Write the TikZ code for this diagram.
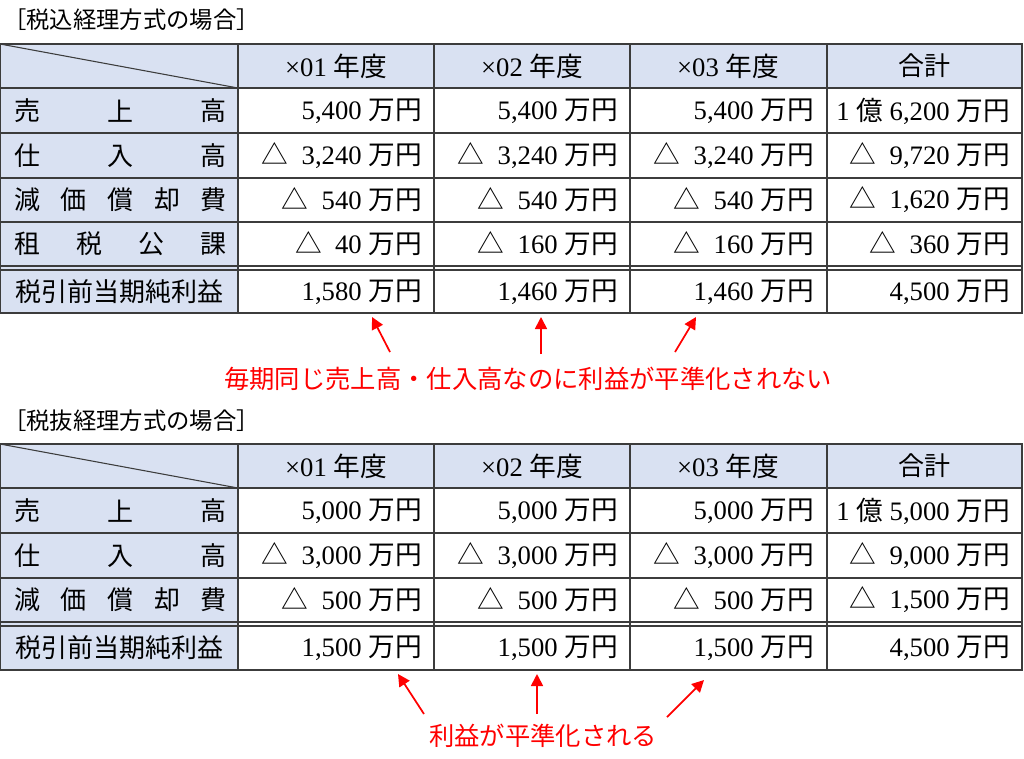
\documentclass[tikz,border=0pt]{standalone}
\usepackage{fontspec}
\setmainfont{Liberation Serif}
\newfontfamily\jp{Noto Sans CJK JP}
\usetikzlibrary{arrows.meta}
\definecolor{hdr}{RGB}{217,225,242}
\definecolor{gridc}{RGB}{60,60,60}
\tikzset{
  txt/.style={inner sep=0pt,font=\fontsize{20}{24}\selectfont},
  jtxt/.style={inner sep=0pt,font=\fontsize{19.5}{24}\selectfont\jp},
  num/.style={txt,anchor=east},
  red arrow/.style={draw=red,line width=1.3pt,-{Triangle[length=9pt,width=9pt]}},
  note/.style={inner sep=0pt,text=red,font=\fontsize{19}{22}\selectfont\jp},
  ttl/.style={inner sep=0pt,font=\fontsize{17.5}{22}\selectfont\jp,anchor=west}
}
\newcommand{\jpMan}{\ {\jp 万円}}
\newcommand{\tri}{{\jp △}\ \ }
\begin{document}
\begin{tikzpicture}[x=0.75pt,y=-0.75pt]
\useasboundingbox (0,0) rectangle (1024,758);
% ---------- table 1 ----------
\node[ttl] (t1) at (3,20) {［税込経理方式の場合］};
\fill[hdr] (0,44) rectangle (1022,88);
\fill[hdr] (0,88) rectangle (238,313);
\draw[gridc,line width=0.9pt] (0,44) rectangle (1022,313);
\foreach \yy in {88,133,178,222,266,270} \draw[gridc,line width=0.9pt] (0,\yy) -- (1022,\yy);
\foreach \xx in {238,434,630,827} \draw[gridc,line width=0.9pt] (\xx,44) -- (\xx,313);
\draw[gridc,line width=0.8pt] (0,44) -- (238,88);
\node[txt] (h11) at (336,66) {×01\ {\jp 年度}};
\node[txt] (h12) at (532,66) {×02\ {\jp 年度}};
\node[txt] (h13) at (728,66) {×03\ {\jp 年度}};
\node[jtxt] (h14) at (924,66) {合計};
\foreach \c/\x [count=\i] in {売/27,上/120,高/213} \node[jtxt] (a1\i) at (\x,111) {\c};
\foreach \c/\x [count=\i] in {仕/27,入/120,高/213} \node[jtxt] (a2\i) at (\x,156) {\c};
\foreach \c/\x [count=\i] in {減/27,価/73,償/120,却/167,費/213} \node[jtxt] (a3\i) at (\x,200) {\c};
\foreach \c/\x [count=\i] in {租/27,税/89,公/151,課/213} \node[jtxt] (a4\i) at (\x,244) {\c};
\node[jtxt] (a5) at (120,292) {税引前当期純利益};
\foreach \v/\x [count=\i] in {{5,400}/422,{5,400}/618,{5,400}/814,{1\ {\jp 億}\ 6,200}/1010}
  \node[num] (b1\i) at (\x,111) {\v\jpMan};
\foreach \v/\x [count=\i] in {{3,240}/422,{3,240}/618,{3,240}/814,{9,720}/1010}
  \node[num] (b2\i) at (\x,156) {\tri\v\jpMan};
\foreach \v/\x [count=\i] in {540/422,540/618,540/814,{1,620}/1010}
  \node[num] (b3\i) at (\x,200) {\tri\v\jpMan};
\foreach \v/\x [count=\i] in {40/422,160/618,160/814,360/1010}
  \node[num] (b4\i) at (\x,244) {\tri\v\jpMan};
\foreach \v/\x [count=\i] in {{1,580}/422,{1,460}/618,{1,460}/814,{4,500}/1010}
  \node[num] (b5\i) at (\x,292) {\v\jpMan};
\node[note] (n1) at (528,379) {毎期同じ売上高・仕入高なのに利益が平準化されない};
\coordinate (p11) at (372,317); \coordinate (q11) at (390,352);
\coordinate (p12) at (541,317); \coordinate (q12) at (541,354);
\coordinate (p13) at (696,317); \coordinate (q13) at (675,352);
\draw[red arrow] (q11) -- (p11);
\draw[red arrow] (q12) -- (p12);
\draw[red arrow] (q13) -- (p13);
% ---------- table 2 ----------
\node[ttl] (t2) at (3,421) {［税抜経理方式の場合］};
\fill[hdr] (0,444) rectangle (1022,488);
\fill[hdr] (0,488) rectangle (238,670);
\draw[gridc,line width=0.9pt] (0,444) rectangle (1022,670);
\foreach \yy in {488,533,578,622,626} \draw[gridc,line width=0.9pt] (0,\yy) -- (1022,\yy);
\foreach \xx in {238,434,630,827} \draw[gridc,line width=0.9pt] (\xx,444) -- (\xx,670);
\draw[gridc,line width=0.8pt] (0,444) -- (238,488);
\node[txt] (h21) at (336,466) {×01\ {\jp 年度}};
\node[txt] (h22) at (532,466) {×02\ {\jp 年度}};
\node[txt] (h23) at (728,466) {×03\ {\jp 年度}};
\node[jtxt] (h24) at (924,466) {合計};
\foreach \c/\x [count=\i] in {売/27,上/120,高/213} \node[jtxt] (c1\i) at (\x,511) {\c};
\foreach \c/\x [count=\i] in {仕/27,入/120,高/213} \node[jtxt] (c2\i) at (\x,556) {\c};
\foreach \c/\x [count=\i] in {減/27,価/73,償/120,却/167,費/213} \node[jtxt] (c3\i) at (\x,600) {\c};
\node[jtxt] (c5) at (120,648) {税引前当期純利益};
\foreach \v/\x [count=\i] in {{5,000}/422,{5,000}/618,{5,000}/814,{1\ {\jp 億}\ 5,000}/1010}
  \node[num] (d1\i) at (\x,511) {\v\jpMan};
\foreach \v/\x [count=\i] in {{3,000}/422,{3,000}/618,{3,000}/814,{9,000}/1010}
  \node[num] (d2\i) at (\x,556) {\tri\v\jpMan};
\foreach \v/\x [count=\i] in {500/422,500/618,500/814,{1,500}/1010}
  \node[num] (d3\i) at (\x,600) {\tri\v\jpMan};
\foreach \v/\x [count=\i] in {{1,500}/422,{1,500}/618,{1,500}/814,{4,500}/1010}
  \node[num] (d5\i) at (\x,648) {\v\jpMan};
\node[note] (n2) at (543,736) {利益が平準化される};
\coordinate (p21) at (398,674); \coordinate (q21) at (424,714);
\coordinate (p22) at (537,674); \coordinate (q22) at (537,714);
\coordinate (p23) at (704,680); \coordinate (q23) at (667,717);
\draw[red arrow] (q21) -- (p21);
\draw[red arrow] (q22) -- (p22);
\draw[red arrow] (q23) -- (p23);
\end{tikzpicture}
\end{document}
